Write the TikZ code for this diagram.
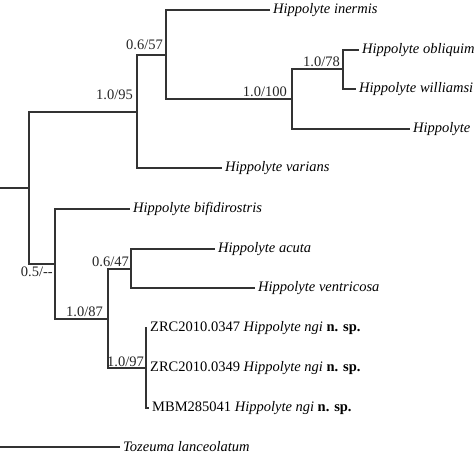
\documentclass[tikz,border=0pt]{standalone}
\usepackage{fontspec}
\setmainfont{Liberation Serif}
\begin{document}
\begin{tikzpicture}[
    x=1pt, y=-1pt,
    every node/.style={font=\fontsize{14.5}{16}\selectfont, inner sep=0pt},
    branch/.style={draw=black!80, line width=1.2pt},
    taxon/.style={anchor=west, font=\fontsize{14.5}{16}\selectfont\itshape, xshift=3pt},
    support/.style={anchor=south east, text=black!85}
]
\useasboundingbox (0,0) rectangle (474,474);

% internal nodes
\coordinate (base) at (0,188);
\coordinate (ingroup) at (29,188);
\coordinate (nA) at (137,112);
\coordinate (nB) at (166,55);
\coordinate (nC) at (292,99);
\coordinate (nD) at (343,69);
\coordinate (nE) at (55,264);
\coordinate (nF) at (108,319);
\coordinate (nG) at (131,269);
\coordinate (nH) at (146,368);
\coordinate (outbase) at (0,447);

% leaves
\coordinate (inermis) at (270,10);
\coordinate (obliquimanus) at (359,50);
\coordinate (williamsi) at (356,89);
\coordinate (sp3) at (410,129);
\coordinate (varians) at (222,168);
\coordinate (bifidirostris) at (130,209);
\coordinate (acuta) at (215,249);
\coordinate (ventricosa) at (255,288);
\coordinate (ngiA) at (147,328);
\coordinate (ngiB) at (147,368);
\coordinate (ngiC) at (149,408);
\coordinate (tozeuma) at (120,447);

\node[taxon] at (inermis) {Hippolyte inermis};
\node[taxon] at (obliquimanus) {Hippolyte obliquimanus};
\node[taxon] at (williamsi) {Hippolyte williamsi};
\node[taxon] at (sp3) {Hippolyte};
\node[taxon] at (varians) {Hippolyte varians};
\node[taxon] at (bifidirostris) {Hippolyte bifidirostris};
\node[taxon] at (acuta) {Hippolyte acuta};
\node[taxon] at (ventricosa) {Hippolyte ventricosa};
\node[taxon, font=\fontsize{14.5}{16}\selectfont] at (ngiA) {ZRC2010.0347 \textit{Hippolyte ngi} \textbf{n. sp.}};
\node[taxon, font=\fontsize{14.5}{16}\selectfont] at (ngiB) {ZRC2010.0349 \textit{Hippolyte ngi} \textbf{n. sp.}};
\node[taxon, font=\fontsize{14.5}{16}\selectfont] at (ngiC) {MBM285041 \textit{Hippolyte ngi} \textbf{n. sp.}};
\node[taxon] at (tozeuma) {Tozeuma lanceolatum};

% branches
\draw[branch] (base) -- (ingroup);
\draw[branch] (ingroup) |- (nA);
\draw[branch] (ingroup) |- (nE);
\draw[branch] (nA) |- (nB);
\draw[branch] (nA) |- (varians);
\draw[branch] (nB) |- (inermis);
\draw[branch] (nB) |- (nC);
\draw[branch] (nC) |- (nD);
\draw[branch] (nC) |- (sp3);
\draw[branch] (nD) |- (obliquimanus);
\draw[branch] (nD) |- (williamsi);
\draw[branch] (nE) |- (bifidirostris);
\draw[branch] (nE) |- (nF);
\draw[branch] (nF) |- (nG);
\draw[branch] (nF) |- (nH);
\draw[branch] (nG) |- (acuta);
\draw[branch] (nG) |- (ventricosa);
\draw[branch] (nH) |- (ngiA);
\draw[branch] (nH) |- (ngiB);
\draw[branch] (nH) |- (ngiC);
\draw[branch] (outbase) -- (tozeuma);

% support values
\node[support] (sA) at ([shift={(-4,-12)}]nA) {1.0/95};
\node[support] (sB) at ([shift={(-3,-5)}]nB) {0.6/57};
\node[support] (sC) at ([shift={(-5,-2)}]nC) {1.0/100};
\node[support] (sD) at ([shift={(-3,-2)}]nD) {1.0/78};
\node[support, anchor=north east] (sE) at ([shift={(-2,3)}]nE) {0.5/-{}-};
\node[support] (sF) at ([shift={(-5,-2)}]nF) {1.0/87};
\node[support] (sG) at ([shift={(-2,-2)}]nG) {0.6/47};
\node[support] (sH) at ([shift={(-2,-1)}]nH) {1.0/97};
\end{tikzpicture}
\end{document}
